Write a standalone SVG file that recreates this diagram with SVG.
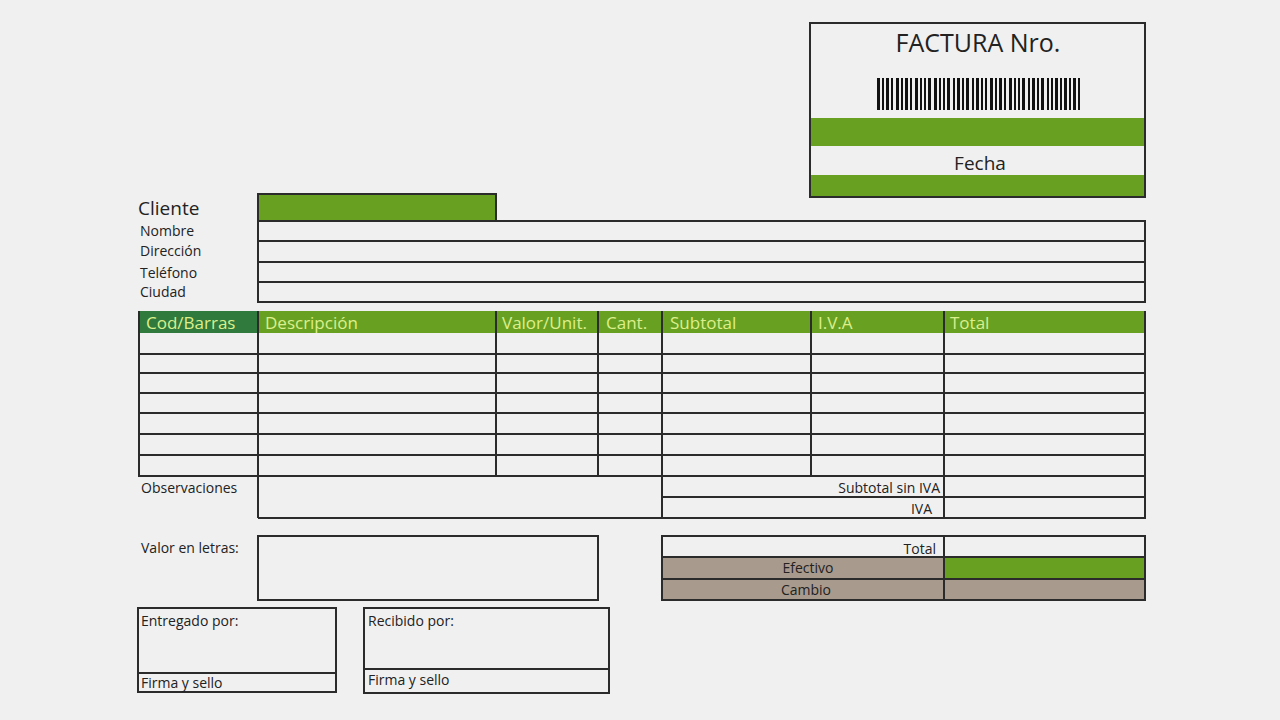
<svg xmlns="http://www.w3.org/2000/svg" width="1280" height="720" viewBox="0 0 1280 720">
<style>
.ln{stroke:#2b2b2b;stroke-width:2;fill:none}
.t{font-family:"Open Sans","Liberation Sans",sans-serif;fill:#222}
.h{font-family:"Open Sans","Liberation Sans",sans-serif;fill:#dcef8c;font-size:17px}
.g{fill:#68a122}
.b{fill:#a89a8d}
</style>
<rect width="1280" height="720" fill="#f0f0f0"/>
<g id="factura">
<rect x="810" y="23" width="335" height="174" fill="#f7f7f7" class="ln"/>
<text x="978" y="52" class="t" font-size="25" text-anchor="middle">FACTURA Nro.</text>
<g fill="#111">
<rect x="877" y="78" width="3" height="32"/><rect x="882" y="78" width="2" height="32"/><rect x="886" y="78" width="3" height="32"/><rect x="891" y="78" width="2" height="32"/><rect x="896" y="78" width="3" height="32"/><rect x="901" y="78" width="2" height="32"/><rect x="905" y="78" width="3" height="32"/><rect x="910" y="78" width="2" height="32"/><rect x="915" y="78" width="3" height="32"/><rect x="920" y="78" width="2" height="32"/><rect x="924" y="78" width="2" height="32"/><rect x="928" y="78" width="3" height="32"/><rect x="934" y="78" width="3" height="32"/><rect x="939" y="78" width="2" height="32"/><rect x="943" y="78" width="2" height="32"/><rect x="947" y="78" width="3" height="32"/><rect x="953" y="78" width="2" height="32"/><rect x="957" y="78" width="3" height="32"/><rect x="962" y="78" width="2" height="32"/><rect x="966" y="78" width="3" height="32"/><rect x="972" y="78" width="2" height="32"/><rect x="976" y="78" width="3" height="32"/><rect x="981" y="78" width="2" height="32"/><rect x="985" y="78" width="2" height="32"/><rect x="990" y="78" width="3" height="32"/><rect x="995" y="78" width="2" height="32"/><rect x="999" y="78" width="3" height="32"/><rect x="1004" y="78" width="2" height="32"/><rect x="1009" y="78" width="3" height="32"/><rect x="1014" y="78" width="2" height="32"/><rect x="1018" y="78" width="2" height="32"/><rect x="1022" y="78" width="3" height="32"/><rect x="1028" y="78" width="2" height="32"/><rect x="1032" y="78" width="3" height="32"/><rect x="1037" y="78" width="2" height="32"/><rect x="1041" y="78" width="3" height="32"/><rect x="1047" y="78" width="2" height="32"/><rect x="1051" y="78" width="2" height="32"/><rect x="1055" y="78" width="3" height="32"/><rect x="1060" y="78" width="2" height="32"/><rect x="1064" y="78" width="3" height="32"/><rect x="1069" y="78" width="2" height="32"/><rect x="1073" y="78" width="3" height="32"/><rect x="1078" y="78" width="2" height="32"/>
</g>
<rect x="811" y="118" width="333" height="28" class="g"/>
<text x="980" y="170" class="t" font-size="19" text-anchor="middle">Fecha</text>
<rect x="811" y="175" width="333" height="21" class="g"/>
</g>
<g id="cliente">
<text x="138" y="215" class="t" font-size="19">Cliente</text>
<rect x="258" y="194" width="238" height="27" class="g" stroke="#2b2b2b" stroke-width="2"/>
<path class="ln" d="M258 221H1145V302H258Z M258 241H1145 M258 262H1145 M258 282H1145"/>
<text x="140" y="236" class="t" font-size="14">Nombre</text>
<text x="140" y="256" class="t" font-size="14">Dirección</text>
<text x="140" y="278" class="t" font-size="14">Teléfono</text>
<text x="140" y="297" class="t" font-size="14">Ciudad</text>
</g>
<g id="tabla">
<rect x="139" y="311" width="1006" height="22" class="g"/>
<rect x="139" y="311" width="119" height="22" fill="#2f7a3c"/>
<text x="146" y="329" class="h">Cod/Barras</text>
<text x="265" y="329" class="h">Descripción</text>
<text x="502" y="329" class="h">Valor/Unit.</text>
<text x="606" y="329" class="h">Cant.</text>
<text x="670" y="329" class="h">Subtotal</text>
<text x="818" y="329" class="h">I.V.A</text>
<text x="950" y="329" class="h">Total</text>
<path class="ln" d="M139 311V476H1145V311 M139 354H1145 M139 373H1145 M139 393H1145 M139 413H1145 M139 434H1145 M139 455H1145 M258 311V518 M496 311V476 M598 311V476 M662 311V518 M811 311V476 M944 311V518"/>
</g>
<g id="observaciones">
<text x="141" y="493" class="t" font-size="14">Observaciones</text>
<path class="ln" d="M258 518H1145V476 M662 497H1145"/>
<text x="940" y="493" class="t" font-size="14" text-anchor="end">Subtotal sin IVA</text>
<text x="932" y="514" class="t" font-size="14" text-anchor="end">IVA</text>
</g>
<g id="letras">
<text x="141" y="553" class="t" font-size="14">Valor en letras:</text>
<rect x="258" y="536" width="340" height="64" class="ln"/>
</g>
<g id="totales">
<rect x="662" y="557" width="483" height="43" class="b"/>
<rect x="944" y="557" width="201" height="22" class="g"/>
<path class="ln" d="M662 536H1145V600H662Z M662 557H1145 M662 579H1145 M944 536V600"/>
<text x="936" y="554" class="t" font-size="14" text-anchor="end">Total</text>
<text x="808" y="573" class="t" font-size="14" text-anchor="middle">Efectivo</text>
<text x="806" y="595" class="t" font-size="14" text-anchor="middle">Cambio</text>
</g>
<g id="entregado">
<path class="ln" d="M138 608H336V692H138Z M138 673H336"/>
<text x="141" y="626" class="t" font-size="14">Entregado por:</text>
<text x="141" y="688" class="t" font-size="14">Firma y sello</text>
</g>
<g id="recibido">
<path class="ln" d="M364 608H609V693H364Z M364 669H609"/>
<text x="368" y="626" class="t" font-size="14">Recibido por:</text>
<text x="368" y="685" class="t" font-size="14">Firma y sello</text>
</g>
</svg>
